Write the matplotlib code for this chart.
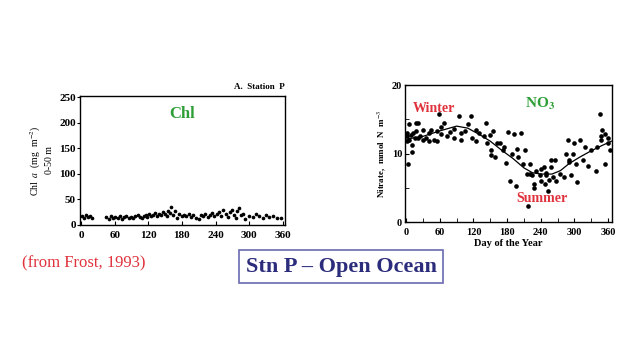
import numpy as np
from matplotlib import pyplot as plt

plt.rcParams['font.family'] = ['Liberation Serif', 'DejaVu Serif']
plt.rcParams['mathtext.fontset'] = 'stix'

# Station P chlorophyll (mg m^-2, 0-50 m)
chl_day = [2, 5, 8, 12, 15, 19, 45, 49, 53, 57, 61, 65, 69, 73, 77, 81, 85, 89,
           93, 97, 101, 105, 108, 112, 115, 118, 122, 125, 128, 132, 135, 139,
           143, 146, 150, 153, 156, 159, 161, 164, 167, 171, 175, 180, 184, 188,
           192, 196, 200, 205, 210, 214, 218, 222, 226, 230, 234, 238, 242, 246,
           250, 254, 258, 262, 266, 270, 273, 276, 279, 282, 285, 289, 293, 300,
           306, 312, 318, 324, 330, 336, 342, 350, 356]
chl_val = [18, 14, 20, 15, 17, 13, 15, 12, 18, 14, 16, 13, 17, 12, 15, 18, 14, 16,
           13, 17, 19, 15, 14, 18, 20, 16, 22, 18, 20, 24, 17, 22, 19, 26, 21, 18,
           28, 23, 35, 20, 27, 14, 22, 17, 20, 18, 22, 16, 19, 14, 12, 20, 17, 22,
           15, 19, 24, 17, 21, 26, 18, 29, 22, 16, 25, 30, 20, 14, 27, 33, 19, 22,
           11, 18, 15, 21, 17, 14, 19, 16, 18, 13, 14]

# Station P nitrate (mmol N m^-3)
no3_day = [2, 2, 2, 3, 5, 5, 8, 10, 10, 13, 15, 18, 18, 21, 21, 25, 30, 30, 35,
           40, 40, 45, 50, 55, 55, 58, 62, 62, 68, 72, 78, 85, 85, 95, 98, 98,
           105, 110, 115, 118, 125, 125, 130, 138, 142, 145, 150, 152, 152, 155,
           158, 162, 168, 172, 175, 178, 182, 185, 188, 192, 195, 198, 200, 205,
           208, 212, 215, 218, 220, 220, 225, 228, 228, 232, 238, 240, 240, 245,
           248, 250, 250, 252, 255, 258, 258, 262, 265, 268, 275, 282, 285, 288,
           290, 290, 293, 298, 300, 302, 305, 310, 315, 318, 325, 330, 338, 340,
           345, 348, 348, 350, 355, 355, 360, 360, 363]
no3_val = [12.5, 13.0, 11.8, 8.5, 14.3, 12.0, 12.7, 10.2, 11.2, 13.0, 12.3, 14.5,
           13.3, 14.5, 12.2, 12.5, 13.5, 12.0, 12.2, 13.0, 11.8, 13.5, 12.0, 13.3,
           11.8, 15.8, 12.8, 13.8, 14.5, 12.5, 13.2, 12.2, 13.6, 15.5, 13.0, 12.0,
           13.3, 14.3, 15.5, 12.2, 13.5, 11.8, 13.0, 12.5, 14.5, 11.5, 12.7, 9.8,
           10.5, 13.3, 9.5, 11.5, 11.5, 10.5, 11.0, 8.6, 13.2, 6.0, 10.0, 12.8,
           5.2, 10.6, 9.5, 13.0, 8.5, 10.5, 7.0, 2.3, 7.0, 8.5, 6.8, 5.5, 5.0,
           7.5, 6.8, 6.0, 7.8, 8.0, 5.5, 7.2, 6.8, 4.5, 6.2, 9.0, 8.0, 6.5, 9.0,
           6.0, 7.0, 6.5, 10.0, 12.0, 9.0, 8.8, 6.8, 10.0, 11.5, 8.5, 5.8, 12.0,
           9.0, 11.0, 8.2, 10.5, 7.5, 11.0, 15.8, 12.5, 12.0, 13.5, 8.5, 12.8,
           11.5, 12.2, 10.5]

# smoothed seasonal curve
fit_day = [0, 30, 60, 90, 110, 130, 150, 170, 190, 210, 225, 240, 260, 275,
           290, 310, 330, 350, 366]
fit_val = [12.1, 12.5, 13.3, 14.0, 13.7, 12.8, 11.8, 10.5, 9.3, 7.9, 7.2, 7.0,
           7.0, 7.5, 8.5, 9.5, 10.4, 11.2, 11.8]

red = '#e0323c'
green = '#2e9e36'
navy = '#2c2c7c'

fig = plt.figure(figsize=(6.38, 3.59), dpi=100)

# --- left panel: chlorophyll ---
ax1 = fig.add_axes([0.1254, 0.3733, 0.3213, 0.3593])
ax1.scatter(chl_day, chl_val, s=7, c='k', marker='o', linewidths=0)
ax1.set_xlim(-2, 364)
ax1.set_ylim(0, 252)
ax1.set_xticks(np.arange(0, 361, 60))
ax1.set_yticks(np.arange(0, 251, 50))
ax1.tick_params(axis='x', direction='in', length=3, labelsize=8, pad=4)
ax1.tick_params(axis='y', direction='out', length=2, labelsize=8, pad=1)
ax1.set_ylabel('Chl  $a$  (mg  m$^{-2}$)\n0-50 m', fontsize=7, labelpad=4)
ax1.text(1.0, 1.04, 'A.  Station  P', transform=ax1.transAxes, ha='right',
         va='bottom', fontsize=6.5, fontweight='bold')
ax1.text(0.5, 0.86, 'Chl', transform=ax1.transAxes, ha='center', va='center',
         fontsize=12, fontweight='bold', color=green)

# --- right panel: nitrate ---
ax2 = fig.add_axes([0.6348, 0.3816, 0.3245, 0.3816])
ax2.scatter(no3_day, no3_val, s=11, c='k', marker='o', linewidths=0)
ax2.plot(fit_day, fit_val, c='k', lw=0.9)
ax2.set_xlim(-2, 367)
ax2.set_ylim(0, 20)
ax2.set_xticks(np.arange(0, 361, 60))
ax2.set_xticks(np.arange(30, 361, 60), minor=True)
ax2.set_yticks([0, 10, 20])
ax2.set_yticks([5, 15], minor=True)
ax2.tick_params(axis='x', which='both', direction='in', length=3, labelsize=7.5, pad=4)
ax2.tick_params(axis='y', which='both', direction='in', length=3, labelsize=7.5, pad=2)
ax2.set_xlabel('Day of the Year', fontsize=7.5, fontweight='bold', labelpad=2)
ax2.set_ylabel('Nitrate,  mmol  N  m$^{-3}$', fontsize=6.5, fontweight='bold', labelpad=3)
ax2.text(0.14, 0.83, 'Winter', transform=ax2.transAxes, ha='center', va='center',
         fontsize=10, fontweight='bold', color=red)
ax2.text(0.65, 0.86, r'NO$_\mathbf{3}$', transform=ax2.transAxes, ha='center',
         va='center', fontsize=11, fontweight='bold', color=green)
ax2.text(0.66, 0.17, 'Summer', transform=ax2.transAxes, ha='center', va='center',
         fontsize=10, fontweight='bold', color=red)

for ax in (ax1, ax2):
    for sp in ax.spines.values():
        sp.set_linewidth(1.0)
    for lab in ax.get_xticklabels() + ax.get_yticklabels():
        lab.set_fontweight('bold')

fig.text(0.035, 0.265, '(from Frost, 1993)', fontsize=12, color=red,
         ha='left', va='center')
fig.text(0.535, 0.257, 'Stn P \u2013 Open Ocean', fontsize=16, color=navy,
         fontweight='bold', ha='center', va='center',
         bbox=dict(boxstyle='square,pad=0.3', fc='white', ec='#6a6ab0', lw=1.2))

fig.savefig('out.png', dpi=100)
